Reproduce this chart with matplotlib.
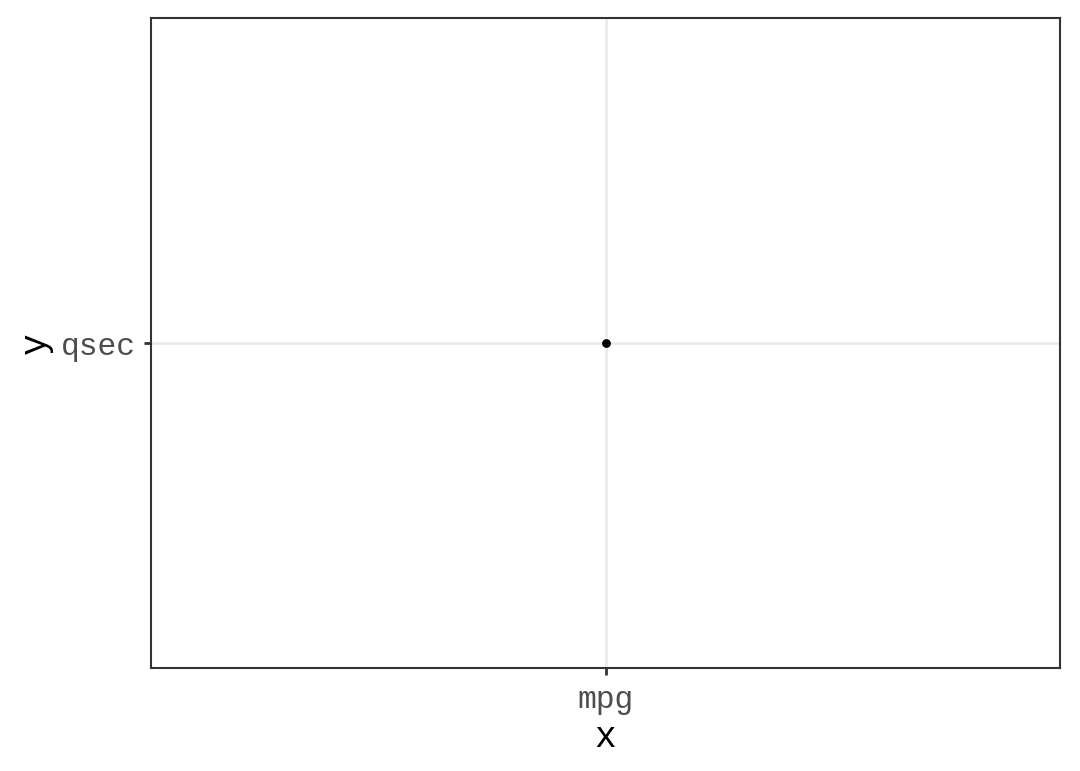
import matplotlib.pyplot as plt

# data: one point on a categorical x and y axis
x_cats = ['mpg']
y_cats = ['qsec']
x_vals = ['mpg']
y_vals = ['qsec']

plt.rcParams['font.family'] = ['Liberation Mono', 'DejaVu Sans']

fig = plt.figure(figsize=(10.8, 7.71), dpi=100)
ax = fig.add_axes([151 / 1080, 1 - 668 / 771, (1060 - 151) / 1080, (668 - 18) / 771])

xi = [x_cats.index(v) for v in x_vals]
yi = [y_cats.index(v) for v in y_vals]

ax.set_xlim(-0.6, len(x_cats) - 0.4)
ax.set_ylim(-0.6, len(y_cats) - 0.4)
ax.set_xticks(range(len(x_cats)))
ax.set_xticklabels(x_cats)
ax.set_yticks(range(len(y_cats)))
ax.set_yticklabels(y_cats)

ax.grid(True, color='#EBEBEB', linewidth=2)
ax.set_axisbelow(True)
ax.scatter(xi, yi, s=28, color='black', zorder=3)

for sp in ax.spines.values():
    sp.set_color('#333333')
    sp.set_linewidth(1.5)

ax.tick_params(axis='both', colors='#333333', length=5, width=2,
               labelsize=22.5, labelcolor='#4D4D4D')
ax.tick_params(axis='x', pad=7)
ax.tick_params(axis='y', pad=6)
ax.set_xlabel('x', fontsize=26, labelpad=4)
ax.set_ylabel('y', fontsize=26, labelpad=6)

fig.savefig('out.png', dpi=100)
